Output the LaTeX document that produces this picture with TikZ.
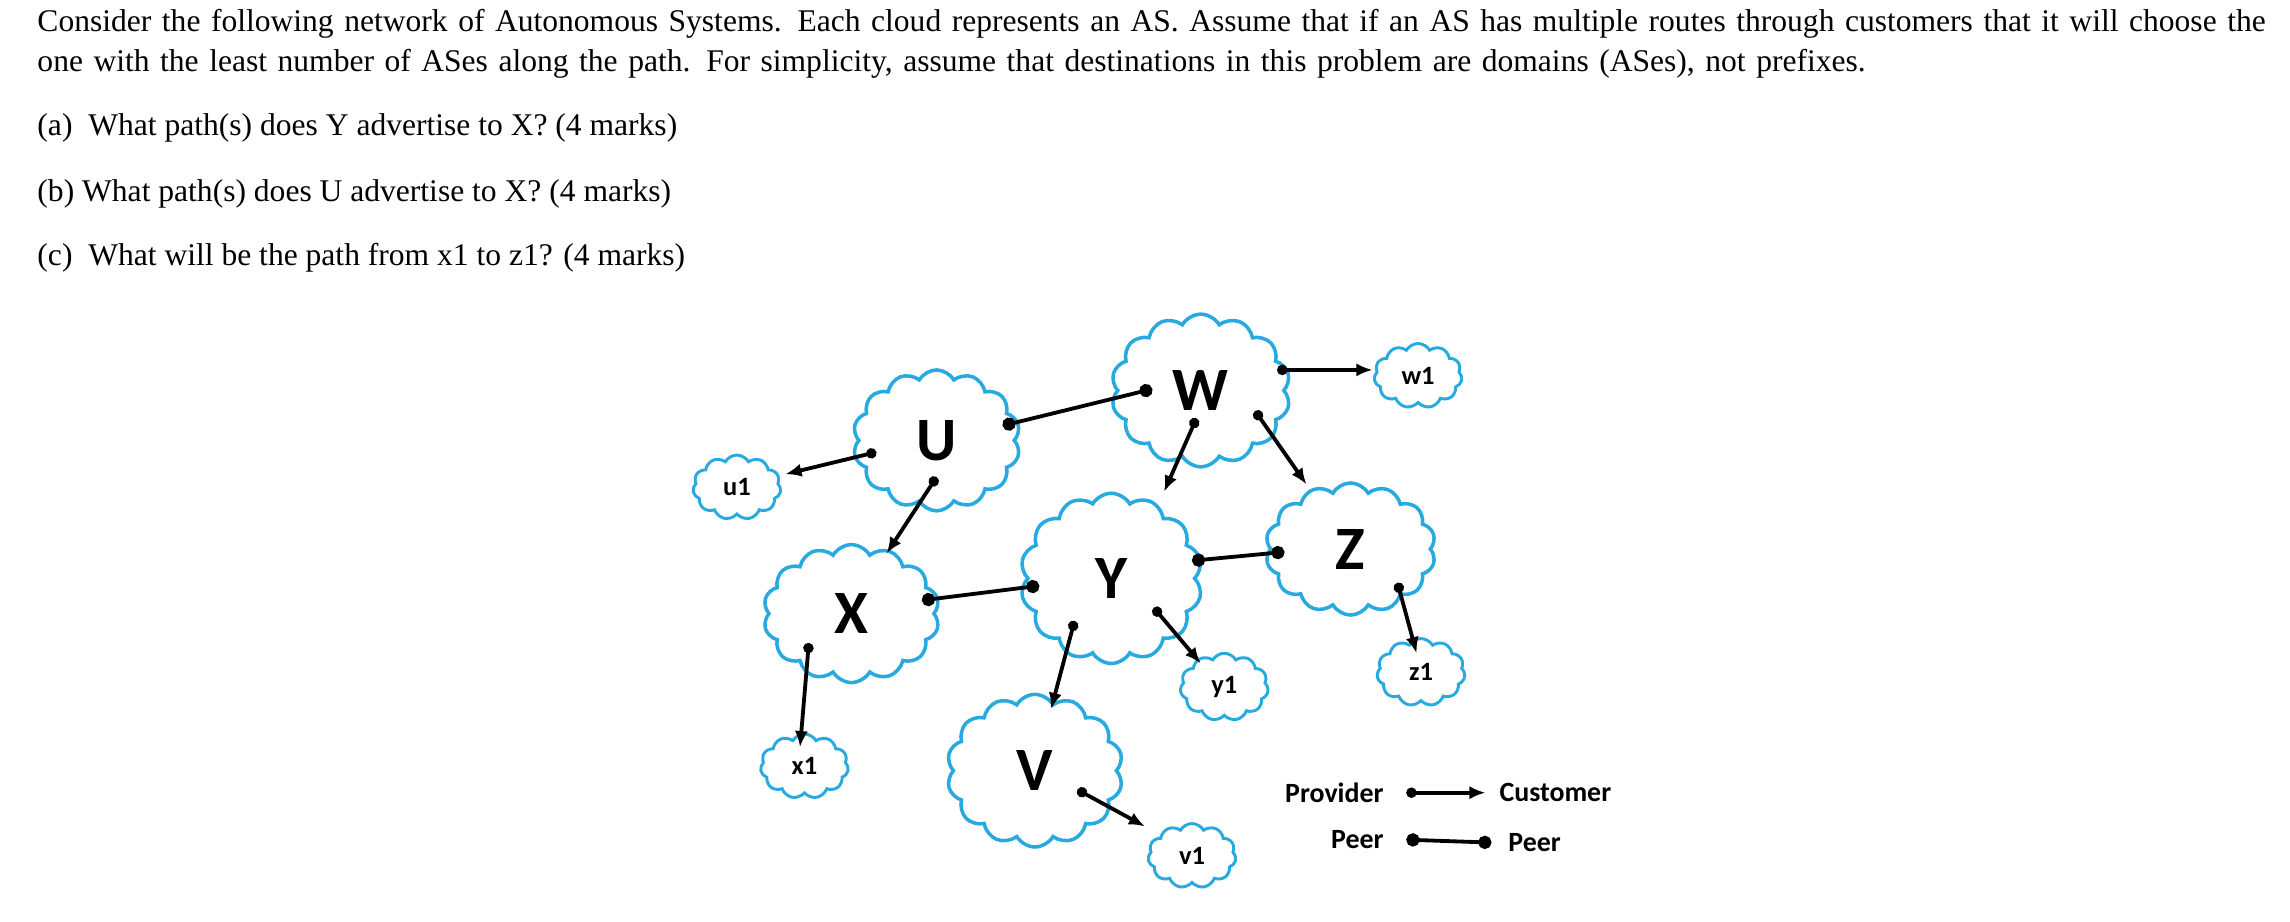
\documentclass[tikz,border=0pt]{standalone}
\usepackage{fontspec}
\setmainfont{Liberation Serif}
\newfontfamily\diagfont{Carlito}
\usetikzlibrary{shapes.symbols,arrows.meta,positioning}
\definecolor{cloudblue}{RGB}{40,170,225}
\tikzset{
  as/.style={cloud,cloud puffs=14,cloud puff arc=120,aspect=1.3,draw=cloudblue,line width=2.4pt,
    inner sep=0pt,font=\diagfont\bfseries\fontsize{42}{42}\selectfont},
  leaf/.style={cloud,cloud puffs=11,cloud puff arc=120,aspect=1.4,draw=cloudblue,line width=2pt,
    inner sep=0pt,font=\diagfont\bfseries\fontsize{18}{18}\selectfont},
  pc/.style={{Circle[length=7pt]}-{Latex[length=11pt,width=9pt]},line width=2.6pt},
  pp/.style={{Circle[length=9pt]}-{Circle[length=9pt]},line width=2.6pt},
  qtext/.style={anchor=north west,align=left,font=\fontsize{21.5}{27}\selectfont}
}
\begin{document}
\begin{tikzpicture}[x=1pt,y=-1pt]
\useasboundingbox (0,0) rectangle (1560,628);
% question
\node[qtext,text width=1530pt] (q) at (22,3) {Consider the following network of Autonomous Systems. Each cloud represents an AS. Assume that if an AS has multiple routes through customers that it will choose the one with the least number of ASes along the path. For simplicity, assume that destinations in this problem are domains (ASes), not prefixes.};
\node[qtext] (qa) at (22,74) {(a)\enspace What path(s) does Y advertise to X? (4 marks)};
\node[qtext] (qb) at (22,119) {(b) What path(s) does U advertise to X? (4 marks)};
\node[qtext] (qc) at (22,162) {(c)\enspace What will be the path from x1 to z1? (4 marks)};

% the AS clouds
\node[as,minimum width=122pt,minimum height=104pt] (W) at (818,266) {W};
\node[as,minimum width=114pt,minimum height=96pt] (U) at (638,300) {U};
\node[as,minimum width=116pt,minimum height=90pt] (Z) at (920,374) {Z};
\node[as,minimum width=124pt,minimum height=116pt] (Y) at (757,394) {Y};
\node[as,minimum width=120pt,minimum height=94pt] (X) at (580,418) {X};
\node[as,minimum width=120pt,minimum height=104pt] (V) at (705,525) {V};
\node[leaf,minimum width=60pt,minimum height=44pt] (w1) at (966,256) {w1};
\node[leaf,minimum width=60pt,minimum height=44pt] (u1) at (502,332) {u1};
\node[leaf,minimum width=60pt,minimum height=46pt] (y1) at (834,468) {y1};
\node[leaf,minimum width=60pt,minimum height=46pt] (z1) at (968,458) {z1};
\node[leaf,minimum width=60pt,minimum height=44pt] (x1) at (548,522) {x1};
\node[leaf,minimum width=60pt,minimum height=44pt] (v1) at (812,583) {v1};

% end points of the links
\coordinate (Wu) at ([shift={(-33,-1)}]W.center);
\coordinate (Ww) at ([shift={(52,-14)}]W.center);
\coordinate (Wy) at ([shift={(-3,19)}]W.center);
\coordinate (Wz) at ([shift={(37,14)}]W.center);
\coordinate (Uw) at ([shift={(45,-10)}]U.center);
\coordinate (Uu) at ([shift={(-41,8)}]U.center);
\coordinate (Ux) at ([shift={(0,25)}]U.center);
\coordinate (Yx) at ([shift={(-49,5)}]Y.center);
\coordinate (Yz) at ([shift={(55,-12)}]Y.center);
\coordinate (Yv) at ([shift={(-25,29)}]Y.center);
\coordinate (Yy) at ([shift={(29,20)}]Y.center);
\coordinate (Zy) at ([shift={(-45,2)}]Z.center);
\coordinate (Zz) at ([shift={(32,23)}]Z.center);
\coordinate (Xy) at ([shift={(48,-9)}]X.center);
\coordinate (Xx) at ([shift={(-29,20)}]X.center);
\coordinate (Vv) at ([shift={(29,13)}]V.center);
\coordinate (w1in) at ([shift={(-31,-4)}]w1.center);
\coordinate (u1in) at ([shift={(33,-9)}]u1.center);
\coordinate (Xin) at ([shift={(24,-41)}]X.center);
\coordinate (Yin) at ([shift={(36,-59)}]Y.center);
\coordinate (Zin) at ([shift={(-30,-44)}]Z.center);
\coordinate (z1in) at ([shift={(-3,-13)}]z1.center);
\coordinate (y1in) at ([shift={(-16,-16)}]y1.center);
\coordinate (Vin) at ([shift={(11,-42)}]V.center);
\coordinate (x1in) at ([shift={(-3,-13)}]x1.center);
\coordinate (v1in) at ([shift={(-32,-20)}]v1.center);

% provider -> customer
\draw[pc] (Ww) -- (w1in);
\draw[pc] (Uu) -- (u1in);
\draw[pc] (Ux) -- (Xin);
\draw[pc] (Wy) -- (Yin);
\draw[pc] (Wz) -- (Zin);
\draw[pc] (Zz) -- (z1in);
\draw[pc] (Yy) -- (y1in);
\draw[pc] (Yv) -- (Vin);
\draw[pc] (Xx) -- (x1in);
\draw[pc] (Vv) -- (v1in);
% peers
\draw[pp] (Uw) -- (Wu);
\draw[pp] (Xy) -- (Yx);
\draw[pp] (Yz) -- (Zy);

% legend
\begin{scope}[font=\diagfont\bfseries\fontsize{19}{19}\selectfont]
\node[anchor=east] (lp) at (946,540) {Provider};
\node[anchor=west] (lc) at (1018,540) {Customer};
\node[anchor=east] (lq) at (946,572) {Peer};
\node[anchor=west] (lr) at (1024,574) {Peer};
\draw[pc] ([xshift=12pt]lp.east) -- ([xshift=-6pt]lc.west);
\draw[pp] ([xshift=12pt]lq.east) -- ([xshift=-8pt]lr.west);
\end{scope}
\end{tikzpicture}
\end{document}
